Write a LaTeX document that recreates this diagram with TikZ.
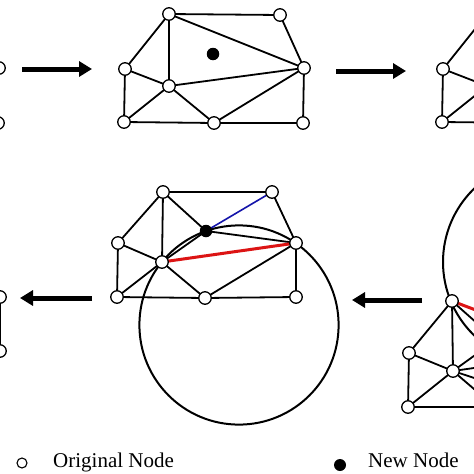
\documentclass[tikz,border=0pt]{standalone}
\usepackage{fontspec}
\setmainfont{Liberation Serif}
\usetikzlibrary{arrows.meta}
\tikzset{
  edge/.style={line width=1.8pt, line cap=round},
  onode/.style={circle, draw, fill=white, line width=1.3pt, minimum size=12.5pt, inner sep=0pt},
  nnode/.style={circle, fill=black, minimum size=12.5pt, inner sep=0pt},
  bigarrow/.style={line width=5pt, -{Triangle[length=13pt,width=15pt]}},
  ccircle/.style={line width=2pt},
  rededge/.style={line width=3pt, draw={rgb,255:red,220;green,20;blue,20}},
  blueedge/.style={line width=1.6pt, draw={rgb,255:red,20;green,20;blue,170}},
  legtext/.style={font=\fontsize{21}{24}\selectfont, anchor=base west, inner sep=0pt}
}
\newcommand{\tfig}[1]{%
  \coordinate (#1A) at (169,14); \coordinate (#1B) at (280,15);
  \coordinate (#1L) at (125,69); \coordinate (#1C) at (169,86);
  \coordinate (#1BL) at (124,122); \coordinate (#1BM) at (214,123);
  \coordinate (#1R) at (304,68); \coordinate (#1BR) at (303,123);
  \draw[edge] (#1A)--(#1B) (#1A)--(#1L) (#1A)--(#1C) (#1A)--(#1R)
    (#1L)--(#1C) (#1L)--(#1BL) (#1BL)--(#1C) (#1BL)--(#1BM) (#1C)--(#1BM)
    (#1C)--(#1R) (#1BM)--(#1R) (#1BM)--(#1BR) (#1B)--(#1R) (#1R)--(#1BR);
  \foreach \n in {A,B,L,C,BL,BM,R,BR} \node[onode] (#1n\n) at (#1\n) {};
}
\begin{document}
\begin{tikzpicture}[x=1pt,y=-1pt]
\useasboundingbox (0,0) rectangle (474,474);
\fill[white] (0,0) rectangle (474,474);
\clip (0,0) rectangle (474,474);

% ---------- top row ----------
\begin{scope}[shift={(-305,0)}]\tfig{p}\end{scope}
\tfig{m}
\node[nnode] (mN) at (213,54) {};
\begin{scope}[shift={(318,0)}]\tfig{q}\end{scope}

\coordinate (a1s) at (22,69);  \coordinate (a1e) at (92,69);
\coordinate (a2s) at (336,71); \coordinate (a2e) at (406,71);
\draw[bigarrow] (a1s) -- (a1e);
\draw[bigarrow] (a2s) -- (a2e);

% ---------- bottom middle ----------
\coordinate (bA) at (163,192); \coordinate (bB) at (272,192);
\coordinate (bL) at (118,243); \coordinate (bC) at (162,262);
\coordinate (bBL) at (117,297); \coordinate (bBM) at (205,298);
\coordinate (bR) at (296,243); \coordinate (bBR) at (296,297);
\coordinate (bN) at (206,231);
\coordinate (bO) at (239,325);
\draw[ccircle] (bO) circle[radius=99.6pt];
\draw[edge] (bA)--(bB) (bA)--(bL) (bA)--(bC) (bA)--(bN) (bL)--(bC) (bL)--(bBL)
  (bBL)--(bC) (bBL)--(bBM) (bC)--(bBM) (bBM)--(bR) (bBM)--(bBR) (bB)--(bR)
  (bR)--(bBR) (bN)--(bC) (bN)--(bR);
\draw[blueedge] (bN) -- (bB);
\draw[rededge] (bC) -- (bR);
\foreach \n in {A,B,L,C,BL,BM,R,BR} \node[onode] (bn\n) at (b\n) {};
\node[nnode] (bnN) at (bN) {};

% ---------- bottom right ----------
\coordinate (rA) at (452,301); \coordinate (rL) at (409,353);
\coordinate (rC) at (453,371); \coordinate (rBL) at (408,407);
\coordinate (rN) at (496,340); \coordinate (rR) at (586,352);
\coordinate (rX) at (520,393); \coordinate (rBM) at (495,407);
\coordinate (rO) at (545,262);
\draw[ccircle] (rO) circle[radius=102pt];
\draw[edge] (rA)--(rL) (rA)--(rC) (rL)--(rC) (rL)--(rBL) (rBL)--(rC) (rBL)--(rBM)
  (rA)--(rN) (rC)--(rN) (rC)--(rR) (rC)--(rX) (rC)--(rBM);
\draw[rededge] (rA) -- (rR);
\foreach \n in {A,L,C,BL} \node[onode] (rn\n) at (r\n) {};

\coordinate (a3s) at (422,300); \coordinate (a3e) at (352,300);
\coordinate (a4s) at (92,298);  \coordinate (a4e) at (20,298);
\draw[bigarrow] (a3s) -- (a3e);
\draw[bigarrow] (a4s) -- (a4e);

% ---------- bottom left ----------
\coordinate (lR) at (0,297); \coordinate (lBR) at (0,351);
\draw[edge] (lR) -- (lBR);
\node[onode] (lnR) at (lR) {};
\node[onode] (lnBR) at (lBR) {};

% ---------- legend ----------
\node[onode, minimum size=10pt, line width=1.1pt] (lego) at (22,463) {};
\node[legtext] (legot) at (53,467) {Original Node};
\node[nnode, minimum size=12pt] (legn) at (340,465) {};
\node[legtext] (legnt) at (368,467) {New Node};
\end{tikzpicture}
\end{document}
